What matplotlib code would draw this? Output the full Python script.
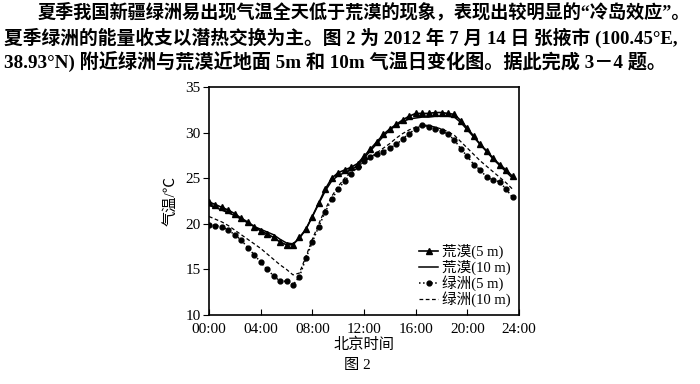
import numpy as np
import matplotlib.pyplot as plt

plt.rcParams['font.family'] = ['Liberation Serif', 'Noto Sans CJK SC']

# 半小时一个点 (北京时间)
hours = np.arange(0, 24, 0.5)

desert_5m = [22.4, 22.1, 21.8, 21.5, 21.1, 20.6, 20.2, 19.7, 19.2, 18.9, 18.5, 18.0,
             17.7, 17.7, 18.5, 19.4, 20.8, 22.3, 23.8, 25.0, 25.6, 25.9, 26.2, 26.6,
             27.4, 28.2, 29.0, 29.8, 30.4, 30.9, 31.4, 31.8, 32.1, 32.1, 32.1, 32.2,
             32.2, 32.1, 32.0, 31.3, 30.5, 29.6, 28.7, 28.0, 27.2, 26.5, 25.9, 25.2]
desert_10m = [22.0, 21.8, 21.5, 21.2, 20.9, 20.5, 20.1, 19.7, 19.4, 19.1, 18.8, 18.3,
              17.9, 17.8, 18.4, 19.4, 20.8, 22.2, 23.6, 24.7, 25.3, 25.6, 25.9, 26.4,
              27.2, 28.0, 28.8, 29.6, 30.3, 30.8, 31.2, 31.5, 31.6, 31.7, 31.7, 31.8,
              31.8, 31.8, 31.7, 31.1, 30.3, 29.5, 28.7, 27.9, 27.1, 26.4, 25.7, 25.0]
oasis_5m = [19.9, 19.8, 19.7, 19.3, 18.8, 18.2, 17.4, 16.6, 15.8, 15.0, 14.3, 13.7,
            13.7, 13.3, 14.2, 16.2, 18.0, 19.7, 21.3, 22.7, 23.8, 24.7, 25.5, 26.2,
            26.9, 27.3, 27.6, 27.9, 28.3, 28.7, 29.3, 29.9, 30.4, 30.8, 30.6, 30.4,
            30.2, 29.8, 29.2, 28.2, 27.4, 26.5, 25.9, 25.1, 24.8, 24.6, 23.8, 22.9]
oasis_10m = [20.8, 20.5, 20.2, 19.8, 19.3, 18.8, 18.3, 17.8, 17.3, 16.7, 16.1, 15.5,
             15.0, 14.4, 14.6, 16.4, 18.3, 20.0, 21.6, 23.0, 24.1, 25.0, 25.7, 26.3,
             26.8, 27.3, 27.8, 28.3, 28.8, 29.4, 29.9, 30.3, 30.6, 30.8, 30.8, 30.6,
             30.4, 30.1, 29.7, 29.0, 28.3, 27.6, 26.9, 26.3, 25.7, 25.1, 24.5, 23.8]

xticks = [0, 4, 8, 12, 16, 20, 24]
xtick_labels = ['00:00', '04:00', '08:00', '12:00', '16:00', '20:00', '24:00']

fig = plt.figure(figsize=(7, 3.84), dpi=100)

# 题干文字
fig.text(38 / 700, 1 - 12 / 384, '夏季我国新疆绿洲易出现气温全天低于荒漠的现象，表现出较明显的“冷岛效应”。',
         fontsize=13.1, va='center', ha='left', fontweight='bold')
fig.text(4 / 700, 1 - 38 / 384, '夏季绿洲的能量收支以潜热交换为主。图 2 为 2012 年 7 月 14 日 张掖市 (100.45°E,',
         fontsize=13.5, va='center', ha='left', fontweight='bold')
fig.text(4 / 700, 1 - 61 / 384, '38.93°N) 附近绿洲与荒漠近地面 5m 和 10m 气温日变化图。据此完成 3－4 题。',
         fontsize=13.8, va='center', ha='left', fontweight='bold')

ax = fig.add_axes([209 / 700, 69 / 384, 310 / 700, 228 / 384])

ax.plot(hours, desert_5m, color='black', lw=1.2, marker='^', ms=4.5, label='荒漠(5 m)')
ax.plot(hours, desert_10m, color='black', lw=1.1, label='荒漠(10 m)')
ax.plot(hours, oasis_5m, color='black', lw=1.1, ls=':', marker='o', ms=3.5, label='绿洲(5 m)')
ax.plot(hours, oasis_10m, color='black', lw=0.9, ls=(0, (3, 2)), label='绿洲(10 m)')

ax.set_xlim(0, 24)
ax.set_ylim(10, 35)
ax.set_xticks(xticks)
ax.set_xticklabels(xtick_labels)
ax.set_yticks([10, 15, 20, 25, 30, 35])
ax.tick_params(axis='x', direction='in', labelsize=11, length=4, pad=6)
ax.tick_params(axis='y', direction='out', labelsize=11, length=4, pad=2)
for s in ax.spines.values():
    s.set_linewidth(1.2)

ax.set_xlabel('北京时间', fontsize=11, labelpad=1)
ax.set_ylabel('气温/℃', fontsize=11, labelpad=6)

ax.legend(loc='lower right', frameon=False, fontsize=10.5, handlelength=1.3,
          handletextpad=0.3, labelspacing=0.02, borderaxespad=0.15)

fig.text(357 / 700, 1 - 366 / 384, '图 2', fontsize=11, ha='center', va='center')

plt.savefig('out.png', dpi=100)
